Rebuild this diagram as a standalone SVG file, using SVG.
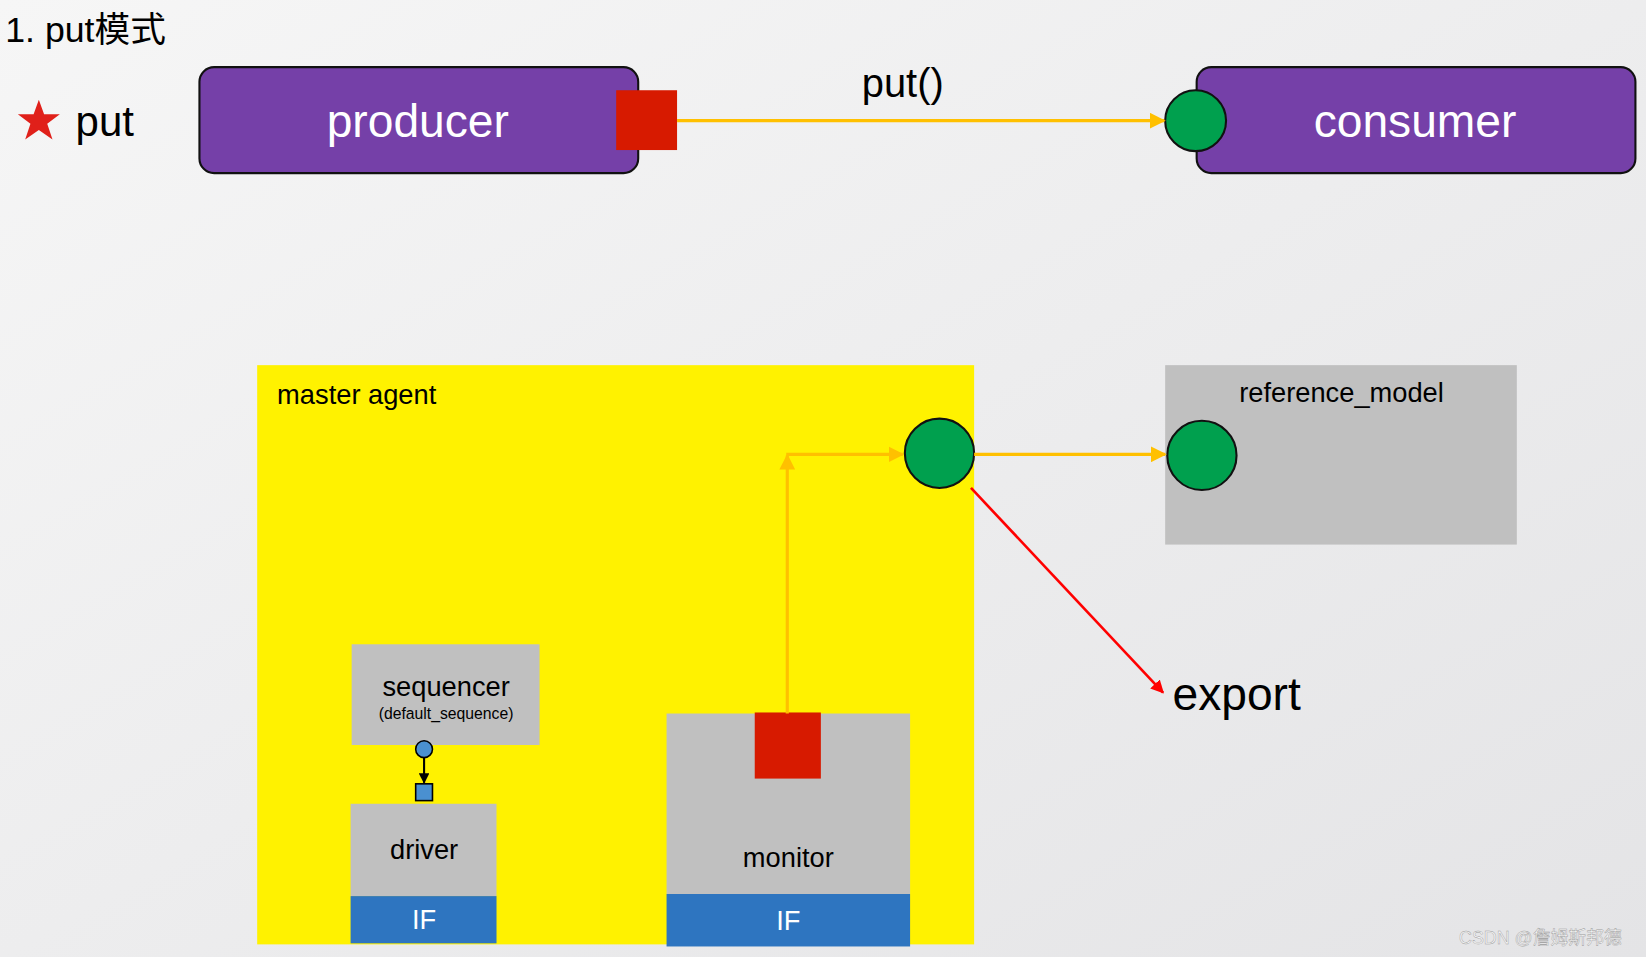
<svg xmlns="http://www.w3.org/2000/svg" width="1646" height="957" viewBox="0 0 1646 957">
<defs>
<linearGradient id="bg" x1="0" y1="0" x2="1" y2="1"><stop offset="0" stop-color="#f6f6f6"/><stop offset="1" stop-color="#e4e4e6"/></linearGradient>
<marker id="ao" viewBox="0 0 10 10" refX="9" refY="5" markerWidth="5" markerHeight="5" orient="auto"><path d="M0,0L10,5L0,10z" fill="#ffc000"/></marker>
<marker id="ar" viewBox="0 0 10 10" refX="9" refY="5" markerWidth="5" markerHeight="5" orient="auto"><path d="M0,0L10,5L0,10z" fill="#ff0000"/></marker>
<marker id="ak" viewBox="0 0 10 10" refX="9" refY="5" markerWidth="5" markerHeight="5" orient="auto"><path d="M0,0L10,5L0,10z" fill="#000"/></marker>
</defs>
<style>
text{font-family:"Liberation Sans","Noto Sans CJK SC",sans-serif}
.p{fill:#7540a8;stroke:#111;stroke-width:2}
.g{fill:#c0c0c0}
.gc{fill:#00a04e;stroke:#111;stroke-width:2}
.rs{fill:#d71a00}
.if{fill:#2e75c0}
.o{stroke:#ffc000;stroke-width:3;fill:none;marker-end:url(#ao)}
</style>
<rect width="1646" height="957" fill="url(#bg)"/>
<g transform="scale(1.0497,1.0493)">
<text x="5" y="40" font-size="34" font-family="Open Sans,Noto Sans CJK SC,sans-serif">1. put模式</text>
<g id="star"><polygon points="37,95 42,109 57,109 45,118 50,133 37,124 24,133 29,118 17,109 32,109" fill="#e0201a"/><text x="72" y="130" font-size="40" font-family="Open Sans,sans-serif">put</text></g>
<g id="producer"><rect class="p" x="190" y="64" width="418" height="101" rx="14"/><text x="398" y="131" font-size="44" fill="#fff" text-anchor="middle">producer</text><rect class="rs" x="587" y="86" width="58" height="57"/></g>
<g id="consumer"><rect class="p" x="1140" y="64" width="418" height="101" rx="14"/><circle class="gc" cx="1139" cy="115" r="29"/><text x="1348" y="131" font-size="44" fill="#fff" text-anchor="middle">consumer</text></g>
<g id="agent"><rect x="245" y="348" width="683" height="552" fill="#fff200"/><text x="264" y="385" font-size="26" font-family="Open Sans,sans-serif">master agent</text><circle class="gc" cx="895" cy="432" r="33"/></g>
<g id="refmodel"><rect class="g" x="1110" y="348" width="335" height="171"/><text x="1278" y="383" font-size="26" text-anchor="middle" font-family="Open Sans,sans-serif">reference_model</text><circle class="gc" cx="1145" cy="434" r="33"/></g>
<g id="sequencer"><rect class="g" x="335" y="614" width="179" height="96"/><text x="425" y="663" font-size="26" text-anchor="middle">sequencer</text><text x="425" y="685" font-size="15" text-anchor="middle">(default_sequence)</text><circle cx="404" cy="714" r="8" fill="#4a90d0" stroke="#000" stroke-width="1.5"/></g>
<g id="driver"><rect class="g" x="334" y="766" width="139" height="88"/><text x="404" y="819" font-size="26" text-anchor="middle">driver</text><rect class="if" x="334" y="854" width="139" height="45"/><text x="404" y="885" font-size="26" fill="#fff" text-anchor="middle">IF</text><rect x="396" y="747" width="16" height="16" fill="#4a90d0" stroke="#000" stroke-width="1.5"/></g>
<g id="monitor"><rect class="g" x="635" y="680" width="232" height="172"/><text x="751" y="826" font-size="26" text-anchor="middle">monitor</text><rect class="if" x="635" y="852" width="232" height="50"/><text x="751" y="886" font-size="26" fill="#fff" text-anchor="middle">IF</text><rect class="rs" x="719" y="679" width="63" height="63"/></g>
<g id="connectors">
<line class="o" x1="645" y1="115" x2="1109" y2="115"/>
<text x="860" y="92" font-size="38" text-anchor="middle" font-family="Open Sans,sans-serif">put()</text>
<line class="o" x1="928" y1="433" x2="1110" y2="433"/>
<line class="o" x1="750" y1="680" x2="750" y2="434"/>
<line class="o" x1="749" y1="433" x2="860" y2="433"/>
<line x1="925" y1="465" x2="1108" y2="660" stroke="#ff0000" stroke-width="2.5" marker-end="url(#ar)"/>
<line x1="404" y1="722" x2="404" y2="746" stroke="#000" stroke-width="2" marker-end="url(#ak)"/>
</g>
<text x="1117" y="677" font-size="44">export</text>
<text x="1390" y="900" font-size="17" fill="#f8f8f8" stroke="#999" stroke-width="0.4">CSDN @詹姆斯邦德</text>
</g>
</svg>
